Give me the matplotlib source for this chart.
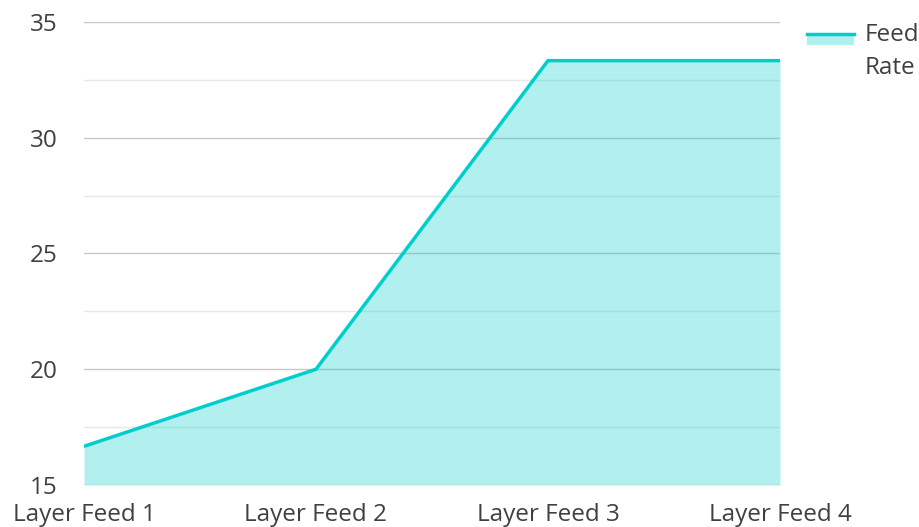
import matplotlib.pyplot as plt
from matplotlib.lines import Line2D
from matplotlib.patches import Rectangle
from matplotlib.ticker import MultipleLocator

categories = ["Layer Feed 1", "Layer Feed 2", "Layer Feed 3", "Layer Feed 4"]
feed_rate = [16.67, 20.0, 33.33, 33.33]
series_name = "Feed\nRate"

line_color = "#00cecb"
text_color = "#404040"

plt.rcParams["font.family"] = ["Open Sans", "DejaVu Sans"]


class LineFillHandler:
    # line on top with a pale band underneath, like the area legend in the reference
    def legend_artist(self, legend, orig_handle, fontsize, handlebox):
        x0, y0 = handlebox.xdescent, handlebox.ydescent
        w, h = handlebox.width, handlebox.height
        top = y0 + h + 7
        band = Rectangle((x0, top - 8), w, 8, facecolor=line_color, alpha=0.3,
                         edgecolor="none", transform=handlebox.get_transform())
        ln = Line2D([x0, x0 + w], [top, top], color=line_color, lw=2.5,
                    transform=handlebox.get_transform())
        handlebox.add_artist(band)
        handlebox.add_artist(ln)
        return ln


fig = plt.figure(figsize=(9.2, 5.27), dpi=100)
ax = fig.add_axes([0.0913, 0.0797, 0.7565, 0.8786])

x = range(len(categories))
ax.fill_between(x, feed_rate, 15, color=line_color, alpha=0.3, lw=0, zorder=2)
line, = ax.plot(x, feed_rate, color=line_color, lw=2.5, zorder=3,
                solid_joinstyle="miter", solid_capstyle="butt")

ax.set_xlim(0, len(categories) - 1)
ax.set_ylim(15, 35)
ax.yaxis.set_major_locator(MultipleLocator(5))
ax.yaxis.set_minor_locator(MultipleLocator(2.5))
ax.grid(axis="y", which="major", color="#c8c8c8", lw=1, zorder=1)
ax.grid(axis="y", which="minor", color="#e8e8e8", lw=1, zorder=1)
ax.set_axisbelow(True)

ax.set_xticks(list(x))
ax.set_xticklabels(categories)
ax.tick_params(axis="both", which="both", length=0, labelsize=17.5, colors=text_color)
ax.tick_params(axis="y", pad=19)
ax.tick_params(axis="x", pad=13)

for s in ax.spines.values():
    s.set_visible(False)

leg = fig.legend([line], [series_name], handler_map={Line2D: LineFillHandler()},
                 loc="upper left", bbox_to_anchor=(0.867, 0.975), frameon=False,
                 fontsize=17.5, labelcolor=text_color, handlelength=1.9,
                 handletextpad=0.45, borderaxespad=0)
leg.get_texts()[0].set_linespacing(1.5)

fig.savefig("out.png", dpi=100)
